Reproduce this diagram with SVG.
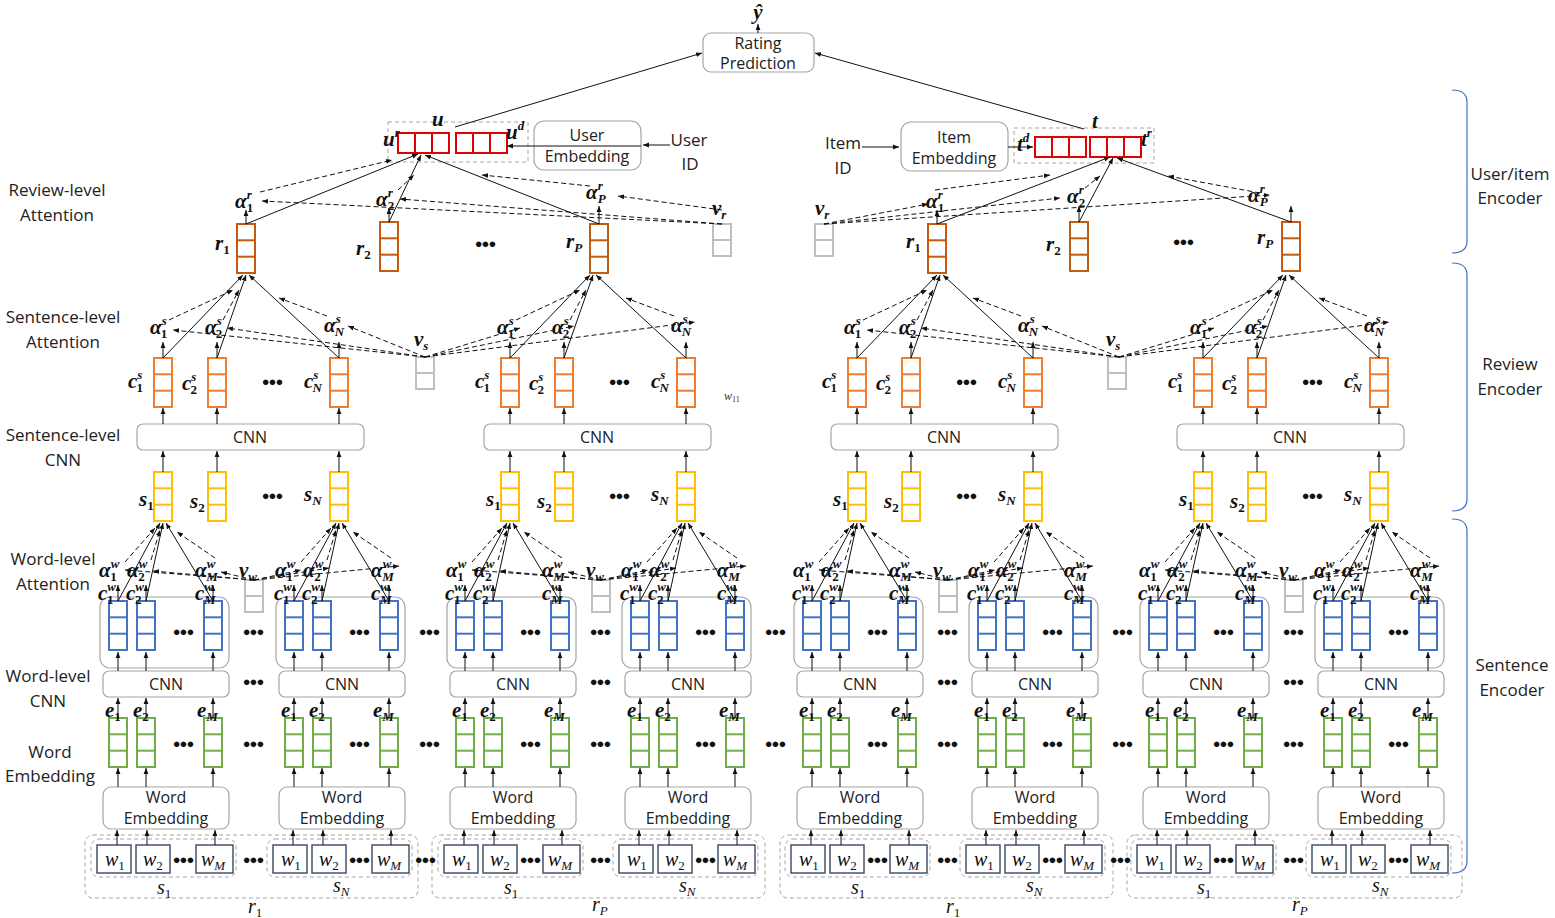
<svg xmlns="http://www.w3.org/2000/svg" xmlns:xlink="http://www.w3.org/1999/xlink" width="1555" height="918" viewBox="0 0 1555 918">
<style>
.t{font-family:"Open Sans","Liberation Sans",sans-serif;font-size:16px;fill:#222;text-anchor:middle}
.lt{font-family:"Open Sans","Liberation Sans",sans-serif;font-size:17px;fill:#222;text-anchor:middle}
.m{font-family:"Liberation Serif",serif;font-weight:bold;font-style:italic;font-size:21px;fill:#111}
.w{font-family:"Liberation Serif",serif;font-style:italic;font-size:20px;fill:#111}
.s{font-size:13px}
.n{font-size:13px;font-style:normal}
.d{font-family:"Liberation Sans",sans-serif;font-weight:bold;font-size:13px;fill:#111;text-anchor:middle;letter-spacing:-1px}
.box{fill:#fff;stroke:#A6A6A6;stroke-width:1.2}
.grp{fill:none;stroke:#A6A6A6;stroke-width:1.2}
.dbox{fill:none;stroke:#A6A6A6;stroke-width:1;stroke-dasharray:4 3}
.wb{fill:#fff;stroke:#44546A;stroke-width:1.5}
.a{stroke:#111;stroke-width:1;fill:none;marker-end:url(#ar)}
.da{stroke:#111;stroke-width:1;fill:none;stroke-dasharray:5 3;marker-end:url(#ar)}
.br{fill:none;stroke:#4472C4;stroke-width:1.2}
</style>
<defs>
<marker id="ar" viewBox="0 0 10 10" refX="10" refY="5" markerWidth="6" markerHeight="6" orient="auto-start-reverse"><path d="M0,1 L10,5 L0,9 z" fill="#111"/></marker>
<g id="c3" fill="none" stroke-width="2"><rect x="0" y="0" width="18" height="49"/><line x1="0" y1="16.3" x2="18" y2="16.3"/><line x1="0" y1="32.7" x2="18" y2="32.7"/></g>
<g id="c2" fill="none" stroke-width="2"><rect x="0" y="0" width="18" height="32"/><line x1="0" y1="16" x2="18" y2="16"/></g>
<g id="v3" fill="none" stroke-width="2"><rect x="0" y="0" width="51" height="20"/><line x1="17" y1="0" x2="17" y2="20"/><line x1="34" y1="0" x2="34" y2="20"/></g>
<g id="sen">
<rect x="-12" y="839" width="145" height="38" rx="8" class="dbox"/>
<rect x="-6" y="845" width="34" height="28" class="wb"/><text class="w" x="2" y="866">w<tspan class="n" dy="4">1</tspan></text>
<rect x="33" y="845" width="34" height="28" class="wb"/><text class="w" x="40" y="866">w<tspan class="n" dy="4">2</tspan></text>
<text class="d" x="80" y="864">●●●</text>
<rect x="93" y="845" width="37" height="28" class="wb"/><text class="w" x="98" y="866">w<tspan class="s" dy="4">M</tspan></text>
<rect x="0" y="787" width="126" height="42" rx="8" class="box"/>
<text class="t" x="63" y="803">Word</text><text class="t" x="63" y="824">Embedding</text>
<use href="#c3" x="6" y="718" stroke="#70AD47"/><use href="#c3" x="34" y="718" stroke="#70AD47"/><use href="#c3" x="101" y="718" stroke="#70AD47"/>
<text class="d" x="80" y="748">●●●</text>
<text class="m" x="2" y="717">e<tspan class="n" dy="4">1</tspan></text>
<text class="m" x="30" y="717">e<tspan class="n" dy="4">2</tspan></text>
<text class="m" x="94" y="717">e<tspan class="s" dy="4">M</tspan></text>
<rect x="0" y="671" width="126" height="26" rx="6" class="box"/><text class="t" x="63" y="690">CNN</text>
<rect x="-3" y="597" width="129" height="71" rx="10" class="grp"/>
<use href="#c3" x="6" y="601" stroke="#4472C4"/><use href="#c3" x="34" y="601" stroke="#4472C4"/><use href="#c3" x="101" y="601" stroke="#4472C4"/>
<text class="d" x="80" y="636">●●●</text>
<text class="m" x="-5" y="600">c<tspan class="s" dy="-9">w</tspan><tspan class="n" dx="-9" dy="13">1</tspan></text>
<text class="m" x="23" y="600">c<tspan class="s" dy="-9">w</tspan><tspan class="n" dx="-9" dy="13">2</tspan></text>
<text class="m" x="92" y="600">c<tspan class="s" dy="-9">w</tspan><tspan class="s" dx="-9" dy="13">M</tspan></text>
<text class="m" x="-4" y="577">α<tspan class="s" dy="-9">w</tspan><tspan class="n" dx="-9" dy="13">1</tspan></text>
<text class="m" x="24" y="577">α<tspan class="s" dy="-9">w</tspan><tspan class="n" dx="-9" dy="13">2</tspan></text>
<text class="m" x="92" y="577">α<tspan class="s" dy="-9">w</tspan><tspan class="s" dx="-9" dy="13">M</tspan></text>
</g>
<g id="sel">
<line class="a" x1="14" y1="845" x2="14" y2="830"/><line class="a" x1="44" y1="845" x2="44" y2="830"/><line class="a" x1="112" y1="845" x2="112" y2="830"/>
<line class="a" x1="15" y1="787" x2="15" y2="768"/><line class="a" x1="43" y1="787" x2="43" y2="768"/><line class="a" x1="110" y1="787" x2="110" y2="768"/>
<line class="a" x1="15" y1="718" x2="15" y2="698"/><line class="a" x1="43" y1="718" x2="43" y2="698"/><line class="a" x1="110" y1="718" x2="110" y2="698"/>
<line class="a" x1="15" y1="671" x2="15" y2="652"/><line class="a" x1="43" y1="671" x2="43" y2="652"/><line class="a" x1="110" y1="671" x2="110" y2="652"/>
<line class="a" x1="15" y1="601" x2="15" y2="585"/><line class="a" x1="43" y1="601" x2="43" y2="585"/><line class="a" x1="110" y1="601" x2="110" y2="585"/>
<line class="a" x1="15" y1="601" x2="57" y2="523"/><line class="a" x1="43" y1="601" x2="60" y2="523"/><line class="a" x1="110" y1="601" x2="63" y2="523"/>
<line class="da" x1="22" y1="562" x2="52" y2="528"/><line class="da" x1="48" y1="560" x2="57" y2="530"/><line class="da" x1="112" y1="558" x2="74" y2="532"/>
</g>
<g id="vwl">
<line class="da" x1="151" y1="580" x2="22" y2="570"/><line class="da" x1="151" y1="580" x2="50" y2="571"/><line class="da" x1="151" y1="580" x2="118" y2="572"/>
<line class="da" x1="151" y1="580" x2="198" y2="570"/><line class="da" x1="151" y1="580" x2="226" y2="568"/><line class="da" x1="151" y1="580" x2="296" y2="566"/>
</g>
<g id="rbn">
<use href="#c3" x="17" y="472" stroke="#FFC000"/><use href="#c3" x="71" y="472" stroke="#FFC000"/><use href="#c3" x="193" y="472" stroke="#FFC000"/>
<text class="m" x="2" y="506">s<tspan class="n" dy="4">1</tspan></text>
<text class="m" x="53" y="508">s<tspan class="n" dy="4">2</tspan></text>
<text class="m" x="167" y="501">s<tspan class="s" dy="4">N</tspan></text>
<text class="d" x="135" y="500">●●●</text>
<rect x="0" y="424" width="227" height="26" rx="6" class="box"/><text class="t" x="113" y="443">CNN</text>
<use href="#c3" x="17" y="358" stroke="#ED7D31"/><use href="#c3" x="71" y="358" stroke="#ED7D31"/><use href="#c3" x="193" y="358" stroke="#ED7D31"/>
<text class="m" x="-9" y="388">c<tspan class="s" dy="-9">s</tspan><tspan class="n" dx="-6" dy="13">1</tspan></text>
<text class="m" x="45" y="390">c<tspan class="s" dy="-9">s</tspan><tspan class="n" dx="-6" dy="13">2</tspan></text>
<text class="m" x="167" y="388">c<tspan class="s" dy="-9">s</tspan><tspan class="s" dx="-6" dy="13">N</tspan></text>
<text class="d" x="135" y="386">●●●</text>
<text class="m" x="13" y="334">α<tspan class="s" dy="-9">s</tspan><tspan class="n" dx="-6" dy="13">1</tspan></text>
<text class="m" x="68" y="334">α<tspan class="s" dy="-9">s</tspan><tspan class="n" dx="-6" dy="13">2</tspan></text>
<text class="m" x="187" y="332">α<tspan class="s" dy="-9">s</tspan><tspan class="s" dx="-6" dy="13">N</tspan></text>
</g>
<g id="rbl">
<line class="a" x1="26" y1="472" x2="26" y2="451"/><line class="a" x1="80" y1="472" x2="80" y2="451"/><line class="a" x1="202" y1="472" x2="202" y2="451"/>
<line class="a" x1="26" y1="424" x2="26" y2="408"/><line class="a" x1="80" y1="424" x2="80" y2="408"/><line class="a" x1="202" y1="424" x2="202" y2="408"/>
<line class="a" x1="26" y1="358" x2="26" y2="342"/><line class="a" x1="80" y1="358" x2="80" y2="342"/><line class="a" x1="202" y1="358" x2="202" y2="342"/>
<line class="a" x1="26" y1="358" x2="106" y2="275"/><line class="a" x1="80" y1="358" x2="109" y2="275"/><line class="a" x1="202" y1="358" x2="112" y2="275"/>
<line class="da" x1="32" y1="320" x2="96" y2="290"/><line class="da" x1="86" y1="320" x2="102" y2="290"/><line class="da" x1="190" y1="316" x2="142" y2="298"/>
</g>
<g id="vsl">
<line class="da" x1="288" y1="357" x2="36" y2="330"/><line class="da" x1="288" y1="357" x2="90" y2="328"/><line class="da" x1="288" y1="357" x2="211" y2="326"/>
<line class="da" x1="288" y1="357" x2="383" y2="328"/><line class="da" x1="288" y1="357" x2="437" y2="326"/><line class="da" x1="288" y1="357" x2="558" y2="322"/>
</g>
</defs>
<rect width="1555" height="918" fill="#fff"/>

<g id="side-labels">
<text class="lt" x="57" y="196">Review-level</text><text class="lt" x="57" y="221">Attention</text>
<text class="lt" x="63" y="323">Sentence-level</text><text class="lt" x="63" y="348">Attention</text>
<text class="lt" x="63" y="441">Sentence-level</text><text class="lt" x="63" y="466">CNN</text>
<text class="lt" x="53" y="565">Word-level</text><text class="lt" x="53" y="590">Attention</text>
<text class="lt" x="48" y="682">Word-level</text><text class="lt" x="48" y="707">CNN</text>
<text class="lt" x="50" y="758">Word</text><text class="lt" x="50" y="782">Embedding</text>
<text class="lt" x="1510" y="180">User/item</text><text class="lt" x="1510" y="204">Encoder</text>
<text class="lt" x="1510" y="370">Review</text><text class="lt" x="1510" y="395">Encoder</text>
<text class="lt" x="1512" y="671">Sentence</text><text class="lt" x="1512" y="696">Encoder</text>
<path class="br" d="M1452,90 Q1467,90 1467,102 V241 Q1467,253 1452,253"/>
<path class="br" d="M1452,263 Q1467,263 1467,275 V499 Q1467,511 1452,511"/>
<path class="br" d="M1452,519 Q1467,519 1467,531 V861 Q1467,873 1452,873"/>
</g>

<g id="review-groups">
<rect x="85" y="835" width="333" height="63" rx="8" class="dbox"/><text class="w" x="248" y="913">r<tspan class="n" dy="4">1</tspan></text>
<rect x="432" y="835" width="333" height="63" rx="8" class="dbox"/><text class="w" x="592" y="911">r<tspan class="s" dy="4">P</tspan></text>
<rect x="780" y="835" width="333" height="63" rx="8" class="dbox"/><text class="w" x="946" y="913">r<tspan class="n" dy="4">1</tspan></text>
<rect x="1127" y="835" width="335" height="63" rx="8" class="dbox"/><text class="w" x="1292" y="911">r<tspan class="s" dy="4">P</tspan></text>
</g>

<g id="sentence-encoders">
<g id="se1"><use href="#sen" x="103"/><text class="w" x="157" y="894">s<tspan class="n" dy="4">1</tspan></text></g>
<g id="se2"><use href="#sen" x="279"/><text class="w" x="333" y="892">s<tspan class="s" dy="4">N</tspan></text></g>
<g id="se3"><use href="#sen" x="450"/><text class="w" x="504" y="894">s<tspan class="n" dy="4">1</tspan></text></g>
<g id="se4"><use href="#sen" x="625"/><text class="w" x="679" y="892">s<tspan class="s" dy="4">N</tspan></text></g>
<g id="se5"><use href="#sen" x="797"/><text class="w" x="851" y="894">s<tspan class="n" dy="4">1</tspan></text></g>
<g id="se6"><use href="#sen" x="972"/><text class="w" x="1026" y="892">s<tspan class="s" dy="4">N</tspan></text></g>
<g id="se7"><use href="#sen" x="1143"/><text class="w" x="1197" y="894">s<tspan class="n" dy="4">1</tspan></text></g>
<g id="se8"><use href="#sen" x="1318"/><text class="w" x="1372" y="892">s<tspan class="s" dy="4">N</tspan></text></g>
</g>
<g id="between-dots">
<text class="d" x="253" y="636">●●●</text><text class="d" x="253" y="686">●●●</text><text class="d" x="253" y="748">●●●</text><text class="d" x="253" y="864">●●●</text>
<text class="d" x="429" y="636">●●●</text><text class="d" x="429" y="748">●●●</text><text class="d" x="425" y="864">●●●</text>
<text class="d" x="600" y="636">●●●</text><text class="d" x="600" y="686">●●●</text><text class="d" x="600" y="748">●●●</text><text class="d" x="600" y="864">●●●</text>
<text class="d" x="775" y="636">●●●</text><text class="d" x="775" y="748">●●●</text>
<text class="d" x="947" y="636">●●●</text><text class="d" x="947" y="686">●●●</text><text class="d" x="947" y="748">●●●</text><text class="d" x="947" y="864">●●●</text>
<text class="d" x="1122" y="636">●●●</text><text class="d" x="1122" y="748">●●●</text><text class="d" x="1120" y="864">●●●</text>
<text class="d" x="1293" y="636">●●●</text><text class="d" x="1293" y="686">●●●</text><text class="d" x="1293" y="748">●●●</text><text class="d" x="1293" y="864">●●●</text>
</g>
<g id="word-context">
<use href="#c2" x="245" y="580" stroke="#BFBFBF"/><text class="m" x="239" y="577">v<tspan class="s" dy="4">w</tspan></text>
<use href="#c2" x="592" y="580" stroke="#BFBFBF"/><text class="m" x="586" y="577">v<tspan class="s" dy="4">w</tspan></text>
<use href="#c2" x="939" y="580" stroke="#BFBFBF"/><text class="m" x="933" y="577">v<tspan class="s" dy="4">w</tspan></text>
<use href="#c2" x="1285" y="580" stroke="#BFBFBF"/><text class="m" x="1279" y="577">v<tspan class="s" dy="4">w</tspan></text>
</g>

<g id="review-encoders">
<g id="re1"><use href="#rbn" x="137"/></g>
<g id="re2"><use href="#rbn" x="484"/></g>
<g id="re3"><use href="#rbn" x="831"/></g>
<g id="re4"><use href="#rbn" x="1177"/></g>
<g id="vs-left"><use href="#c2" x="416" y="357" stroke="#BFBFBF"/><text class="m" x="414" y="346">v<tspan class="s" dy="4">s</tspan></text></g>
<g id="vs-right"><use href="#c2" x="1108" y="357" stroke="#BFBFBF"/><text class="m" x="1106" y="346">v<tspan class="s" dy="4">s</tspan></text></g>
<text x="724" y="400" font-family="Liberation Serif,serif" font-style="italic" font-size="12" fill="#333">w<tspan font-size="8" font-style="normal" dy="2">11</tspan></text>
</g>

<g id="reviews">
<use href="#c3" x="237" y="224" stroke="#C55A11"/><text class="m" x="215" y="250">r<tspan class="n" dy="4">1</tspan></text>
<use href="#c3" x="380" y="222" stroke="#C55A11"/><text class="m" x="356" y="255">r<tspan class="n" dy="4">2</tspan></text>
<text class="d" x="485" y="248">●●●</text>
<use href="#c3" x="590" y="224" stroke="#C55A11"/><text class="m" x="566" y="248">r<tspan class="s" dy="4">P</tspan></text>
<use href="#c2" x="713" y="224" stroke="#BFBFBF"/><text class="m" x="712" y="215">v<tspan class="s" dy="4">r</tspan></text>
<text class="m" x="235" y="208">α<tspan class="s" dy="-9">r</tspan><tspan class="n" dx="-5" dy="13">1</tspan></text>
<text class="m" x="376" y="206">α<tspan class="s" dy="-9">r</tspan><tspan class="n" dx="-5" dy="13">2</tspan></text>
<text class="m" x="586" y="199">α<tspan class="s" dy="-9">r</tspan><tspan class="s" dx="-5" dy="13">P</tspan></text>
<use href="#c3" x="928" y="224" stroke="#C55A11"/><text class="m" x="906" y="248">r<tspan class="n" dy="4">1</tspan></text>
<use href="#c3" x="1070" y="222" stroke="#C55A11"/><text class="m" x="1046" y="251">r<tspan class="n" dy="4">2</tspan></text>
<text class="d" x="1183" y="246">●●●</text>
<use href="#c3" x="1282" y="222" stroke="#C55A11"/><text class="m" x="1257" y="244">r<tspan class="s" dy="4">P</tspan></text>
<use href="#c2" x="815" y="224" stroke="#BFBFBF"/><text class="m" x="815" y="215">v<tspan class="s" dy="4">r</tspan></text>
<text class="m" x="926" y="208">α<tspan class="s" dy="-9">r</tspan><tspan class="n" dx="-5" dy="13">1</tspan></text>
<text class="m" x="1067" y="203">α<tspan class="s" dy="-9">r</tspan><tspan class="n" dx="-5" dy="13">2</tspan></text>
<text class="m" x="1248" y="202">α<tspan class="s" dy="-9">r</tspan><tspan class="s" dx="-5" dy="13">P</tspan></text>
</g>

<g id="user">
<rect x="388" y="122" width="140" height="40" class="dbox"/>
<use href="#v3" x="398" y="133" stroke="#E00000"/><use href="#v3" x="456" y="133" stroke="#E00000"/>
<text class="m" x="383" y="146">u<tspan class="s" dy="-9">r</tspan></text>
<text class="m" x="506" y="139">u<tspan class="s" dy="-9">d</tspan></text>
<text class="m" x="432" y="126">u</text>
<rect x="534" y="121" width="107" height="49" rx="10" class="box"/>
<text class="t" x="587" y="141">User</text><text class="t" x="587" y="162">Embedding</text>
<text class="lt" x="689" y="146">User</text><text class="lt" x="690" y="170">ID</text>
</g>
<g id="item">
<rect x="1014" y="128" width="140" height="35" class="dbox"/>
<use href="#v3" x="1035" y="137" stroke="#E00000"/><use href="#v3" x="1090" y="137" stroke="#E00000"/>
<text class="m" x="1017" y="151">t<tspan class="s" dy="-9">d</tspan></text>
<text class="m" x="1141" y="146">t<tspan class="s" dy="-9">r</tspan></text>
<text class="m" x="1092" y="128">t</text>
<rect x="901" y="122" width="107" height="49" rx="10" class="box"/>
<text class="t" x="954" y="143">Item</text><text class="t" x="954" y="164">Embedding</text>
<text class="lt" x="843" y="149">Item</text><text class="lt" x="843" y="174">ID</text>
</g>
<g id="rating">
<rect x="703" y="33" width="111" height="39" rx="8" class="box"/>
<text class="t" x="758" y="49">Rating</text><text class="t" x="758" y="69">Prediction</text>
<text class="m" x="758" y="19" text-anchor="middle">ŷ</text>
</g>

<g id="connectors">
<use href="#sel" x="103"/><use href="#sel" x="279"/><use href="#sel" x="450"/><use href="#sel" x="625"/>
<use href="#sel" x="797"/><use href="#sel" x="972"/><use href="#sel" x="1143"/><use href="#sel" x="1318"/>
<use href="#vwl" x="103"/><use href="#vwl" x="450"/><use href="#vwl" x="797"/><use href="#vwl" x="1143"/>
<use href="#rbl" x="137"/><use href="#rbl" x="484"/><use href="#rbl" x="831"/><use href="#rbl" x="1177"/>
<use href="#vsl" x="137"/><use href="#vsl" x="831"/>
<line class="a" x1="246" y1="224" x2="246" y2="210"/><line class="a" x1="389" y1="222" x2="389" y2="208"/><line class="a" x1="599" y1="224" x2="599" y2="206"/>
<line class="a" x1="246" y1="224" x2="418" y2="154"/><line class="a" x1="389" y1="222" x2="421" y2="155"/><line class="a" x1="599" y1="224" x2="425" y2="155"/>
<line class="da" x1="722" y1="224" x2="262" y2="201"/><line class="da" x1="722" y1="224" x2="400" y2="199"/><line class="da" x1="722" y1="210" x2="618" y2="196"/>
<line class="da" x1="260" y1="192" x2="392" y2="160"/><line class="da" x1="398" y1="190" x2="414" y2="175"/><line class="da" x1="590" y1="186" x2="482" y2="175"/>
<line class="a" x1="937" y1="224" x2="937" y2="210"/><line class="a" x1="1079" y1="222" x2="1079" y2="206"/><line class="a" x1="1291" y1="222" x2="1291" y2="206"/>
<line class="a" x1="937" y1="224" x2="1110" y2="157"/><line class="a" x1="1079" y1="222" x2="1113" y2="158"/><line class="a" x1="1291" y1="222" x2="1117" y2="158"/>
<line class="da" x1="824" y1="224" x2="928" y2="204"/><line class="da" x1="824" y1="224" x2="1060" y2="198"/><line class="da" x1="824" y1="224" x2="1270" y2="195"/>
<line class="da" x1="935" y1="190" x2="1050" y2="175"/><line class="da" x1="1085" y1="188" x2="1100" y2="176"/><line class="da" x1="1260" y1="193" x2="1168" y2="176"/>
<line class="a" x1="641" y1="146" x2="507" y2="146"/><line class="a" x1="670" y1="145" x2="643" y2="145"/>
<line class="a" x1="862" y1="147" x2="899" y2="147"/><line class="a" x1="1008" y1="147" x2="1033" y2="147"/>
<line class="a" x1="455" y1="127" x2="702" y2="53"/><line class="a" x1="1084" y1="129" x2="815" y2="53"/>
<line class="a" x1="758" y1="33" x2="758" y2="24"/>
</g>
</svg>
